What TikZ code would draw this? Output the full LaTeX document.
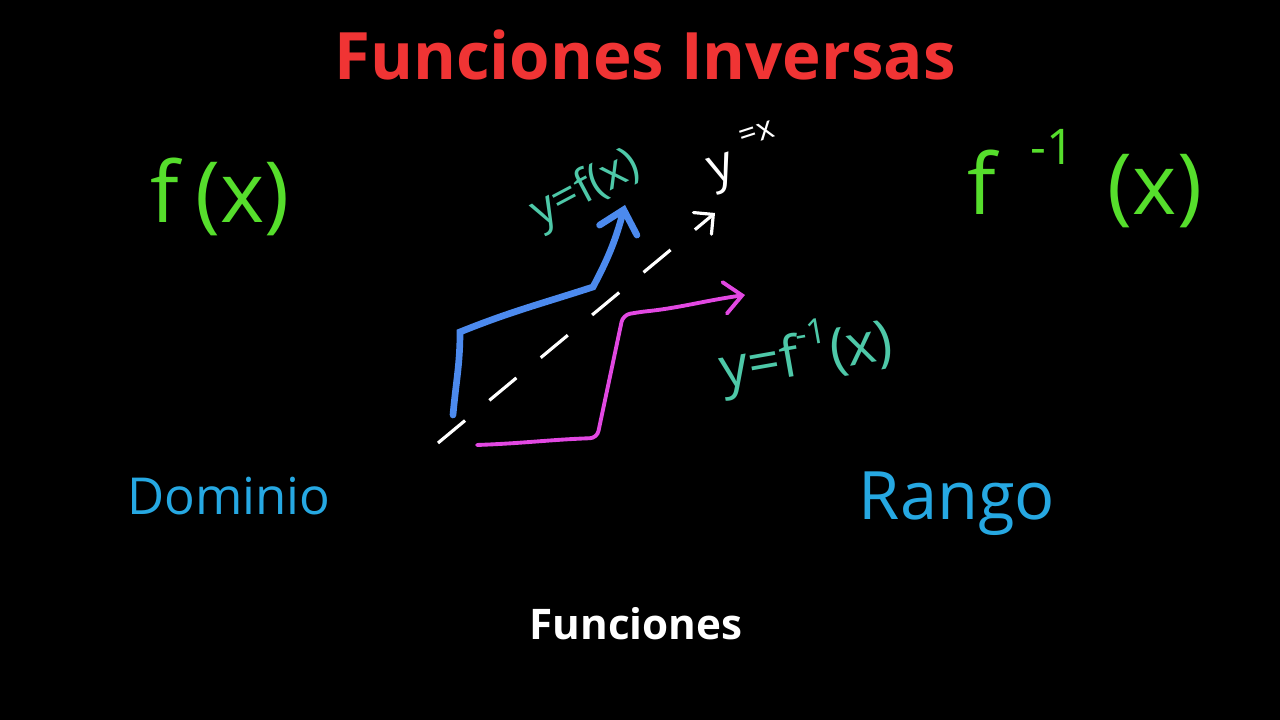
\documentclass[tikz,border=0pt]{standalone}
\usepackage{fontspec}
\setmainfont{Open Sans}
\usetikzlibrary{arrows.meta,positioning}
\definecolor{titlered}{RGB}{240,52,52}
\definecolor{fgreen}{RGB}{86,222,44}
\definecolor{wordblue}{RGB}{38,168,226}
\definecolor{labelteal}{RGB}{78,200,168}
\definecolor{curveblue}{RGB}{76,138,238}
\definecolor{curvepink}{RGB}{226,72,226}
\newcommand{\fsz}[1]{\fontsize{#1}{#1}\selectfont}

\begin{document}
\begin{tikzpicture}[
  every node/.style={inner sep=0pt},
  heading/.style={font=\bfseries\fsz{18.6}, text=titlered, anchor=base},
  caption/.style={font=\bfseries\fsz{12}, text=white, anchor=base},
  fname/.style={text=fgreen, anchor=base},
  setword/.style={text=wordblue, anchor=base},
  curvelabel/.style={text=labelteal, transform shape},
  fcurve/.style={line width=1.9pt, curveblue, line cap=round,
    -{Straight Barb[length=6pt,width=11pt,line cap=round]}},
  gcurve/.style={line width=1.1pt, curvepink, line cap=round, rounded corners=2pt,
    -{Straight Barb[length=5pt,width=9pt,line cap=round]}},
  diag/.style={line width=0.9pt, white, dash pattern=on 10pt off 9pt,
    -{Straight Barb[length=4pt,width=8pt,line cap=round]}}
]
\fill[black] (0,0) rectangle (12.8,7.2);
\useasboundingbox (0,0) rectangle (12.8,7.2);

\node[heading] (title) at (6.45,6.40) {Funciones Inversas};
\node[caption] (subject) at (6.36,0.80) {Funciones};

\node[fname, font=\fsz{24}] (fx) at (2.20,4.97) {f\hspace{0.2em}(x)};
\node[fname, font=\fsz{24}] (finvx) at (10.85,5.05)
  {f\hspace{0.4em}\raisebox{0.6em}{\fsz{14}-1}\hspace{0.4em}(x)};
\node[setword, font=\fsz{14.5}] (domain) at (2.29,2.05) {Dominio};
\node[setword, font=\fsz{19}] (range) at (9.57,2.00) {Rango};

\coordinate (b0) at (4.53,3.05);
\coordinate (b1) at (4.60,3.88);
\coordinate (b2) at (5.93,4.33);
\coordinate (btip) at (6.25,5.15);
\coordinate (m0) at (4.77,2.75);
\coordinate (m1) at (5.97,2.82);
\coordinate (m2) at (6.23,4.05);
\coordinate (mtip) at (7.45,4.25);
\coordinate (d0) at (4.38,2.77);
\coordinate (dtip) at (7.15,5.07);

\draw[diag] (d0) -- (dtip);
\draw[fcurve] (b0) to[out=85,in=-90] (b1) to[out=22,in=198] (b2)
  to[out=62,in=-105] (btip);
\draw[gcurve] (m0) to[out=2,in=182] (m1) -- (m2) -- (6.40,4.08)
  to[out=6,in=188] (mtip);

\node[curvelabel, font=\fsz{13}, rotate=28] (flabel) at (5.86,5.30) {y=f(x)};
\node[text=white, transform shape, rotate=18, font=\fsz{14}] (idlabel) at (7.44,5.62)
  {y\hspace{0.3em}\raisebox{0.55em}{\fsz{9}=x}};
\node[curvelabel, font=\fsz{16}, rotate=10] (ginvlabel) at (8.06,3.66)
  {y=f\raisebox{0.5em}{\fsz{10}-1}(x)};
\end{tikzpicture}
\end{document}
